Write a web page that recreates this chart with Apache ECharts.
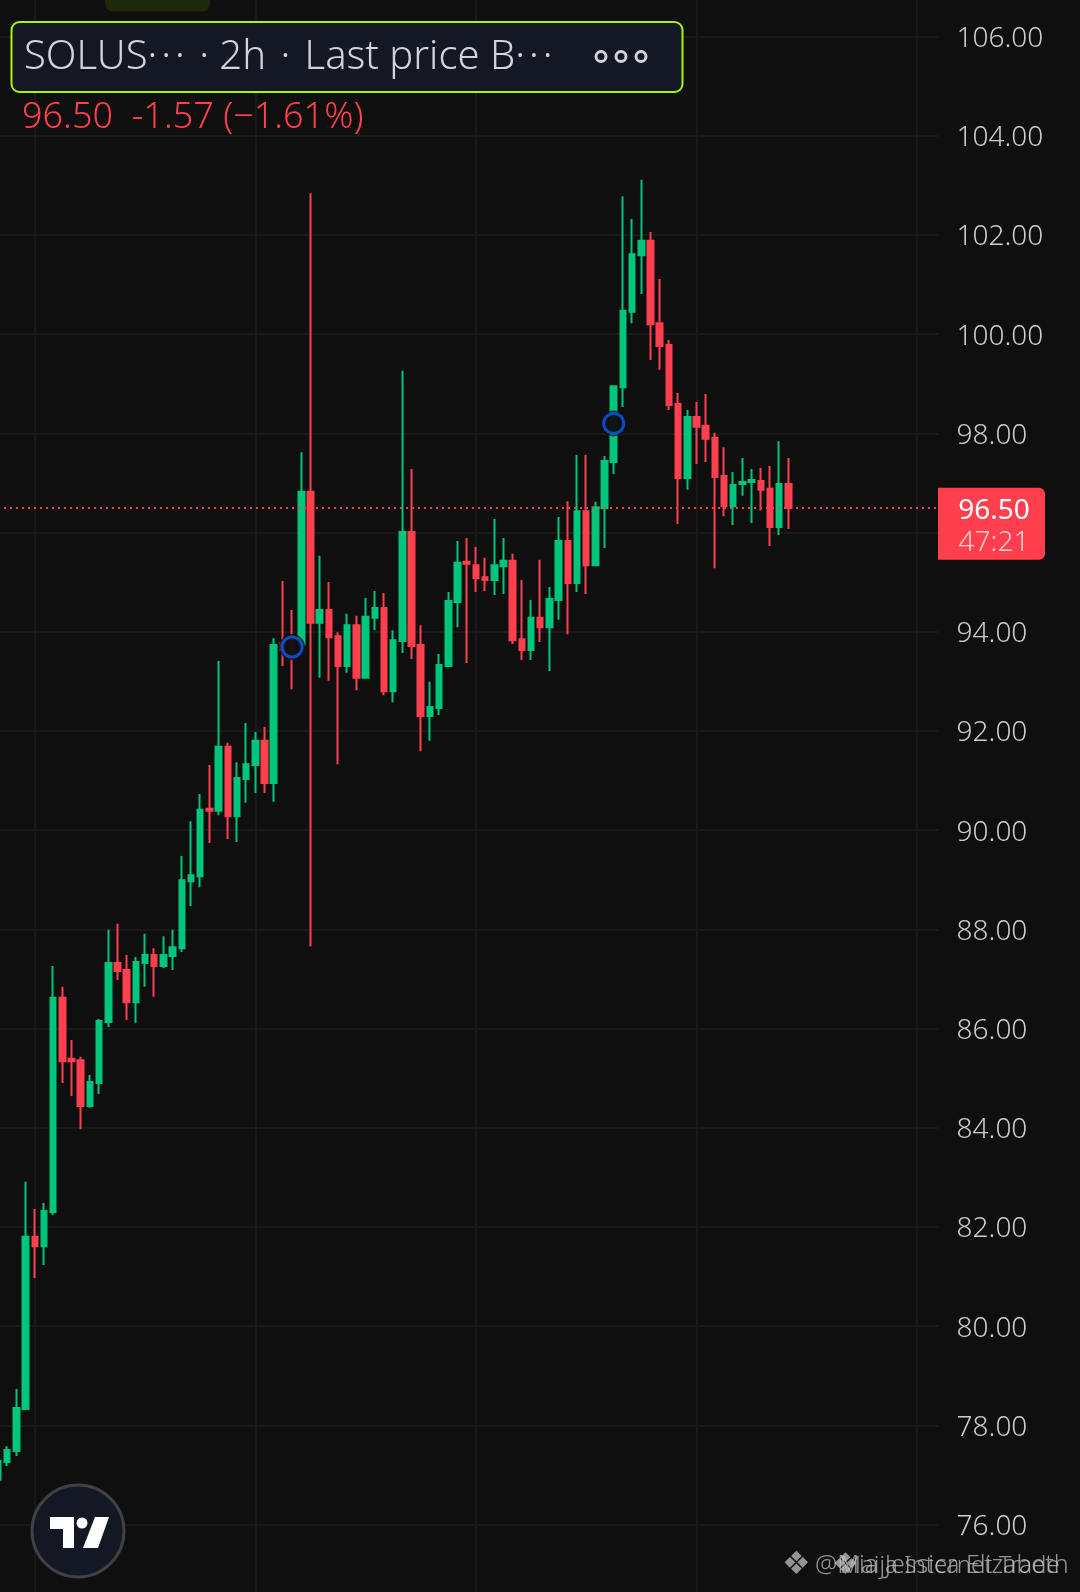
<!DOCTYPE html>
<html>
<head>
<meta charset="utf-8">
<style>html,body{margin:0;padding:0;background:#0f0f0f}#c{width:1080px;height:1592px}</style>
<script src="https://cdn.jsdelivr.net/npm/echarts@6/dist/echarts.min.js"></script>
</head>
<body>
<div id="c"></div>
<script>
const opens = [76.90,77.26,77.48,78.33,81.80,81.61,82.30,86.62,85.39,85.36,84.44,84.90,86.13,87.32,87.18,86.53,87.32,87.48,87.26,87.46,
87.62,88.97,89.07,90.43,90.39,91.68,90.28,91.03,91.31,91.80,90.95,93.77,93.81,93.73,96.82,94.18,94.44,93.91,93.31,94.13,
93.07,94.28,94.48,92.80,93.81,96.01,93.73,92.30,92.46,93.31,94.60,95.41,95.34,95.10,95.04,95.32,95.43,93.85,93.63,94.28,
94.09,94.64,95.83,94.98,96.43,95.34,96.49,97.42,98.93,100.45,101.59,101.88,100.22,99.78,98.59,97.10,98.33,98.15,97.91,97.14,
96.53,96.98,97.02,97.04,96.88,96.11,96.98];
const closes = [77.28,77.50,78.35,81.80,81.61,82.32,86.62,85.34,85.34,84.44,84.92,86.15,87.32,87.16,86.53,87.34,87.48,87.26,87.48,87.64,
88.99,89.09,90.41,90.39,91.68,90.28,91.05,91.33,91.80,90.95,93.73,93.63,93.57,96.82,94.18,94.44,93.89,93.31,94.13,93.07,
94.30,94.48,92.80,93.83,96.01,93.71,92.30,92.48,93.33,94.62,95.39,95.37,95.08,95.04,95.34,95.43,93.83,93.63,94.28,94.09,
94.66,95.83,94.98,96.43,95.34,96.51,97.44,98.95,100.47,101.61,101.88,100.20,99.76,98.57,97.10,98.33,98.13,97.89,97.12,96.53,
96.96,97.02,97.06,96.86,96.11,96.98,96.50];
const lows = [76.85,77.18,77.38,78.31,80.97,81.23,82.24,84.90,84.64,83.97,84.40,84.68,86.03,86.98,86.17,86.11,86.84,86.64,87.22,87.18,
87.54,88.47,88.85,89.74,90.30,89.82,89.76,90.55,90.75,90.75,90.57,93.31,92.84,93.67,87.66,93.07,93.01,91.33,93.17,92.82,
93.05,94.03,92.72,92.58,93.57,93.45,91.59,91.80,92.32,93.29,94.09,93.37,94.80,94.82,94.74,94.76,93.75,93.43,93.43,93.79,
93.21,94.24,93.95,94.80,94.76,95.32,95.69,97.18,98.53,100.22,100.81,99.48,99.28,98.47,96.17,96.86,97.38,97.42,95.28,96.33,
96.15,96.74,96.19,96.45,95.73,95.95,96.07];
const highs = [77.32,77.58,78.73,82.91,82.36,82.48,87.26,86.84,85.77,85.43,85.06,86.19,87.99,88.11,87.48,87.44,87.91,87.62,87.86,87.99,
89.48,90.18,90.73,91.31,93.41,91.76,91.37,92.16,91.98,92.08,93.87,95.02,94.44,97.62,102.84,95.53,95.00,93.99,94.36,94.32,
94.68,94.82,94.78,94.03,99.26,97.28,94.13,92.99,93.55,94.80,95.83,95.89,95.71,95.49,96.27,95.89,95.57,95.04,94.64,95.45,
94.90,96.31,96.63,97.56,97.56,96.62,97.54,98.97,102.78,102.32,103.11,102.06,101.11,99.88,98.81,98.47,98.63,98.79,98.01,97.72,
97.22,97.50,97.28,97.30,97.34,97.84,97.50];
const signalBars = [32, 67];
const signalPrices = [93.69, 98.20];
const priceTicks = { min: 74, max: 108, step: 2 };
const lastPrice = 96.50;
const lastPriceText = "96.50";
const countdownText = "47:21";
const changeText = "96.50  -1.57 (\u22121.61%)";
const titleText = "SOLUS\u00b7\u200a\u00b7\u200a\u00b7 \u200a\u00b7 2h \u200a\u00b7\u200a Last price B\u00b7\u200a\u00b7\u200a\u00b7";
const watermarkA = "@Mia Jessica Elizabeth";
const watermarkB = "Maija Internet Trade";

const BG = "#0f0f0f", GRID = "#191919", UP = "#00c67c", DOWN = "#ff3f4e", AXIS = "#cccccc", FONT = "'Noto Sans', Roboto, sans-serif";
const barCount = 104;
const categories = Array.from({length: barCount}, (_, i) => String(i));
const candleData = opens.map((o, i) => [o, closes[i], lows[i], highs[i]]);

const chart = echarts.init(document.getElementById("c"), null, {renderer: "canvas", width: 1080, height: 1592});
chart.setOption({
  animation: false,
  backgroundColor: BG,
  grid: {left: -2, width: 103 * 9.19, top: -62.7, height: 1686.4, containLabel: false, outerBoundsMode: "none"},
  xAxis: {
    type: "category", data: categories, boundaryGap: false,
    axisLine: {show: false}, axisTick: {show: false}, axisLabel: {show: false},
    splitLine: {show: true, interval: (i) => (i - 4) % 24 === 0, lineStyle: {color: GRID, width: 2}}
  },
  yAxis: {
    type: "value", position: "right", min: priceTicks.min, max: priceTicks.max, interval: priceTicks.step, scale: true,
    axisLine: {show: false}, axisTick: {show: false},
    axisLabel: {
      align: "left", margin: 12, formatter: (v) => "{p|" + v.toFixed(2) + "}",
      rich: {p: {color: AXIS, fontFamily: FONT, fontWeight: 300, fontSize: 28, padding: [5, 0, 0, 0]}}
    },
    splitLine: {show: true, lineStyle: {color: GRID, width: 2}}
  },
  series: [
    {
      type: "line", name: "last", z: 1, data: [[0, lastPrice]], showSymbol: false, silent: true,
      markLine: {
        silent: true, symbol: "none", label: {show: false}, animation: false,
        lineStyle: {color: DOWN, width: 2, type: [2, 4]},
        data: [{yAxis: lastPrice}]
      }
    },
    {
      type: "candlestick", name: "SOLUS", z: 2, data: candleData, barWidth: 6, clip: false,
      itemStyle: {color: UP, color0: DOWN, borderColor: UP, borderColor0: DOWN, borderColorDoji: DOWN, borderWidth: 2}
    },
    {
      type: "scatter", z: 3, symbolSize: 26, silent: true,
      data: signalBars.map((b, i) => [b, signalPrices[i]]),
      itemStyle: {color: BG}
    },
    {
      type: "scatter", z: 4, symbolSize: 20, silent: true,
      data: signalBars.map((b, i) => [b, signalPrices[i]]),
      itemStyle: {color: BG, borderColor: "#0a5cf0", borderWidth: 3}
    }
  ]
});

const yLast = chart.convertToPixel({yAxisIndex: 0}, lastPrice);
const gray = "#d2d4d9";
const wmColor = "rgba(200,200,200,0.72)";
chart.setOption({
  graphic: [
    {type: "rect", z: 90, shape: {x: 938, y: 0, width: 12, height: 1592}, style: {fill: BG}},
    {type: "rect", z: 91, shape: {x: 105, y: -10, width: 105, height: 21.5, r: 8}, style: {fill: "#1e2a08"}},
    {type: "rect", z: 91, shape: {x: 11.5, y: 22, width: 671, height: 70, r: 8}, style: {fill: "#141824", stroke: "#a8f500", lineWidth: 2}},
    {type: "text", z: 92, x: 24, y: 58, style: {text: titleText, fill: gray, font: "300 40px " + FONT, textVerticalAlign: "middle"}},
    {type: "circle", z: 92, shape: {cx: 601, cy: 56.5, r: 5}, style: {fill: "transparent", stroke: gray, lineWidth: 3}},
    {type: "circle", z: 92, shape: {cx: 621, cy: 56.5, r: 5}, style: {fill: "transparent", stroke: gray, lineWidth: 3}},
    {type: "circle", z: 92, shape: {cx: 641, cy: 56.5, r: 5}, style: {fill: "transparent", stroke: gray, lineWidth: 3}},
    {type: "text", z: 92, x: 22, y: 118, style: {text: changeText, fill: DOWN, font: "300 36px " + FONT, textVerticalAlign: "middle"}},
    {type: "rect", z: 95, shape: {x: 938, y: yLast - 20, width: 107, height: 72, r: [0, 6, 6, 0]}, style: {fill: DOWN}},
    {type: "text", z: 96, x: 994, y: yLast + 3, style: {text: lastPriceText, fill: "#ffffff", font: "28px " + FONT, textAlign: "center", textVerticalAlign: "middle"}},
    {type: "text", z: 96, x: 994, y: yLast + 35, style: {text: countdownText, fill: "#ffcdd1", font: "300 28px " + FONT, textAlign: "center", textVerticalAlign: "middle"}},
    {type: "circle", z: 92, shape: {cx: 78, cy: 1531, r: 46}, style: {fill: "#141824", stroke: "#414145", lineWidth: 3}},
    {type: "polygon", z: 93, shape: {points: [[50, 1517], [74, 1517], [74, 1548], [63, 1548], [63, 1529], [50, 1529]]}, style: {fill: "#ffffff"}},
    {type: "circle", z: 93, shape: {cx: 82, cy: 1523, r: 5.5}, style: {fill: "#ffffff"}},
    {type: "polygon", z: 93, shape: {points: [[95, 1517], [109, 1517], [98, 1548], [83, 1548]]}, style: {fill: "#ffffff"}},
    {type: "text", z: 92, x: 782, y: 1566, style: {text: "\u2756", fill: wmColor, font: "32px 'DejaVu Sans'", textVerticalAlign: "middle"}},
    {type: "text", z: 92, x: 832, y: 1566, style: {text: "\u2756", fill: wmColor, font: "30px 'DejaVu Sans'", textVerticalAlign: "middle"}},
    {type: "text", z: 92, x: 815, y: 1566, style: {text: watermarkA, fill: wmColor, font: "300 25px " + FONT, textVerticalAlign: "middle"}},
    {type: "text", z: 92, x: 840, y: 1566, style: {text: watermarkB, fill: wmColor, font: "300 24px " + FONT, textVerticalAlign: "middle"}}
  ]
});
</script>
</body>
</html>
